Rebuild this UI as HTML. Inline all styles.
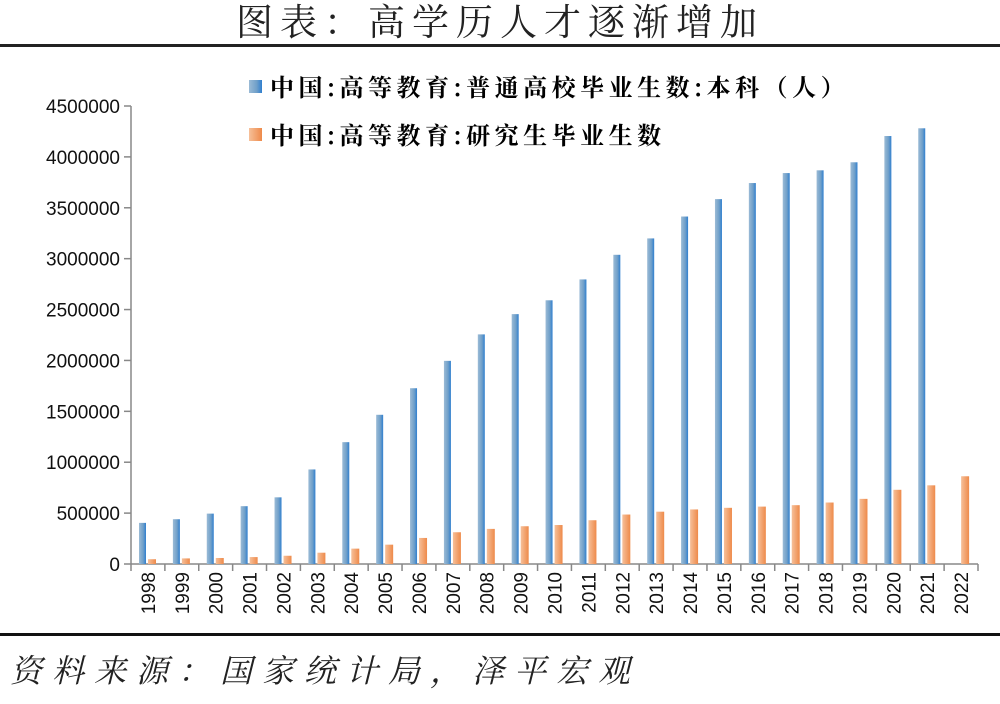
<!DOCTYPE html>
<html><head><meta charset="utf-8"><style>
body{margin:0;background:#fff;width:1000px;height:699px;overflow:hidden;font-family:"Liberation Sans","Noto Sans CJK SC",sans-serif}
</style></head><body>
<svg width="1000" height="699">
<defs>
<linearGradient id="gb" x1="0" x2="1"><stop offset="0" stop-color="#9bbbd6"/><stop offset="0.6" stop-color="#6f9fc9"/><stop offset="1" stop-color="#2f7fcf"/></linearGradient>
<linearGradient id="go" x1="0" x2="1"><stop offset="0" stop-color="#f6c09a"/><stop offset="1" stop-color="#ee8a4a"/></linearGradient>
</defs>
<text x="500" y="35" text-anchor="middle" font-size="37" letter-spacing="7" font-family="'Noto Serif CJK SC',serif" fill="#222">图表：高学历人才逐渐增加</text>
<rect x="0" y="44" width="1000" height="3" fill="#222"/>
<rect x="0" y="633" width="1000" height="3" fill="#111"/>
<text x="10" y="682" font-size="32" letter-spacing="10" font-style="italic" font-family="'Noto Serif CJK SC',serif" fill="#222">资料来源：国家统计局，泽平宏观</text>
<g>
<rect x="249" y="80" width="13" height="13" fill="url(#gb)"/>
<text x="270" y="96" font-size="24" letter-spacing="4.5" font-weight="bold" font-family="'Noto Serif CJK SC',serif">中国:高等教育:普通高校毕业生数:本科（人）</text>
<rect x="249" y="128" width="13" height="13" fill="url(#go)"/>
<text x="270" y="144" font-size="24" letter-spacing="4.5" font-weight="bold" font-family="'Noto Serif CJK SC',serif">中国:高等教育:研究生毕业生数</text>
</g>
<g id="plot"></g>
</svg>
<script>
const years=["1998","1999","2000","2001","2002","2003","2004","2005","2006","2007","2008","2009","2010","2011","2012","2013","2014","2015","2016","2017","2018","2019","2020","2021","2022"];
const undergrad=[404000,440000,495000,568000,655000,929000,1197000,1466000,1727000,1996000,2256000,2455000,2591000,2796000,3038000,3199000,3414000,3585000,3743000,3841000,3868000,3947000,4205000,4281000,null];
const graduates=[47000,55000,59000,68000,81000,111000,151000,190000,256000,312000,345000,371000,383000,430000,486000,514000,536000,552000,564000,578000,604000,640000,729000,773000,862000];
const yTicks=[0,500000,1000000,1500000,2000000,2500000,3000000,3500000,4000000,4500000];
const NS="http://www.w3.org/2000/svg",g=document.getElementById('plot');
const x0=131,x1=978,y0=564,yTop=106,ymax=4500000;
const step=(x1-x0)/years.length;
const y=v=>y0-(v/ymax)*(y0-yTop);
function mk(t,a,txt){const e=document.createElementNS(NS,t);for(const k in a)e.setAttribute(k,a[k]);if(txt!=null)e.textContent=txt;g.appendChild(e);return e;}
let e=mk('line',{x1:x0,x2:x0,y1:yTop,y2:y0,stroke:'#888','stroke-width':1.5});

e=mk('line',{x1:x0,x2:x1,y1:y0,y2:y0,stroke:'#888','stroke-width':1.5});

yTicks.forEach(v=>{
 e=mk('line',{x1:x0-7,x2:x0,y1:y(v),y2:y(v),stroke:'#888','stroke-width':1.5});
 
 e=mk('text',{x:x0-11,y:y(v)+7,'text-anchor':'end','font-size':19,fill:'#111'},String(v));
 
});
for(let i=0;i<=years.length;i++){
 e=mk('line',{x1:x0+i*step,x2:x0+i*step,y1:y0,y2:y0+7,stroke:'#888','stroke-width':1.5});
 
}
years.forEach((yr,i)=>{
 const cx=x0+i*step;
 if(undergrad[i]!=null){
  e=mk('rect',{x:cx+8,y:y(undergrad[i]),width:7,height:y0-y(undergrad[i]),fill:'url(#gb)'});
  
 }
 if(graduates[i]!=null){
  e=mk('rect',{x:cx+17,y:y(graduates[i]),width:8,height:y0-y(graduates[i]),fill:'url(#go)'});
  
 }
 const lx=cx+step/2+7,ly=572;
 e=mk('text',{x:lx,y:ly,'text-anchor':'end','font-size':19,fill:'#111',transform:`rotate(-90 ${lx} ${ly})`},yr);
 
});
</script>
</body></html>
